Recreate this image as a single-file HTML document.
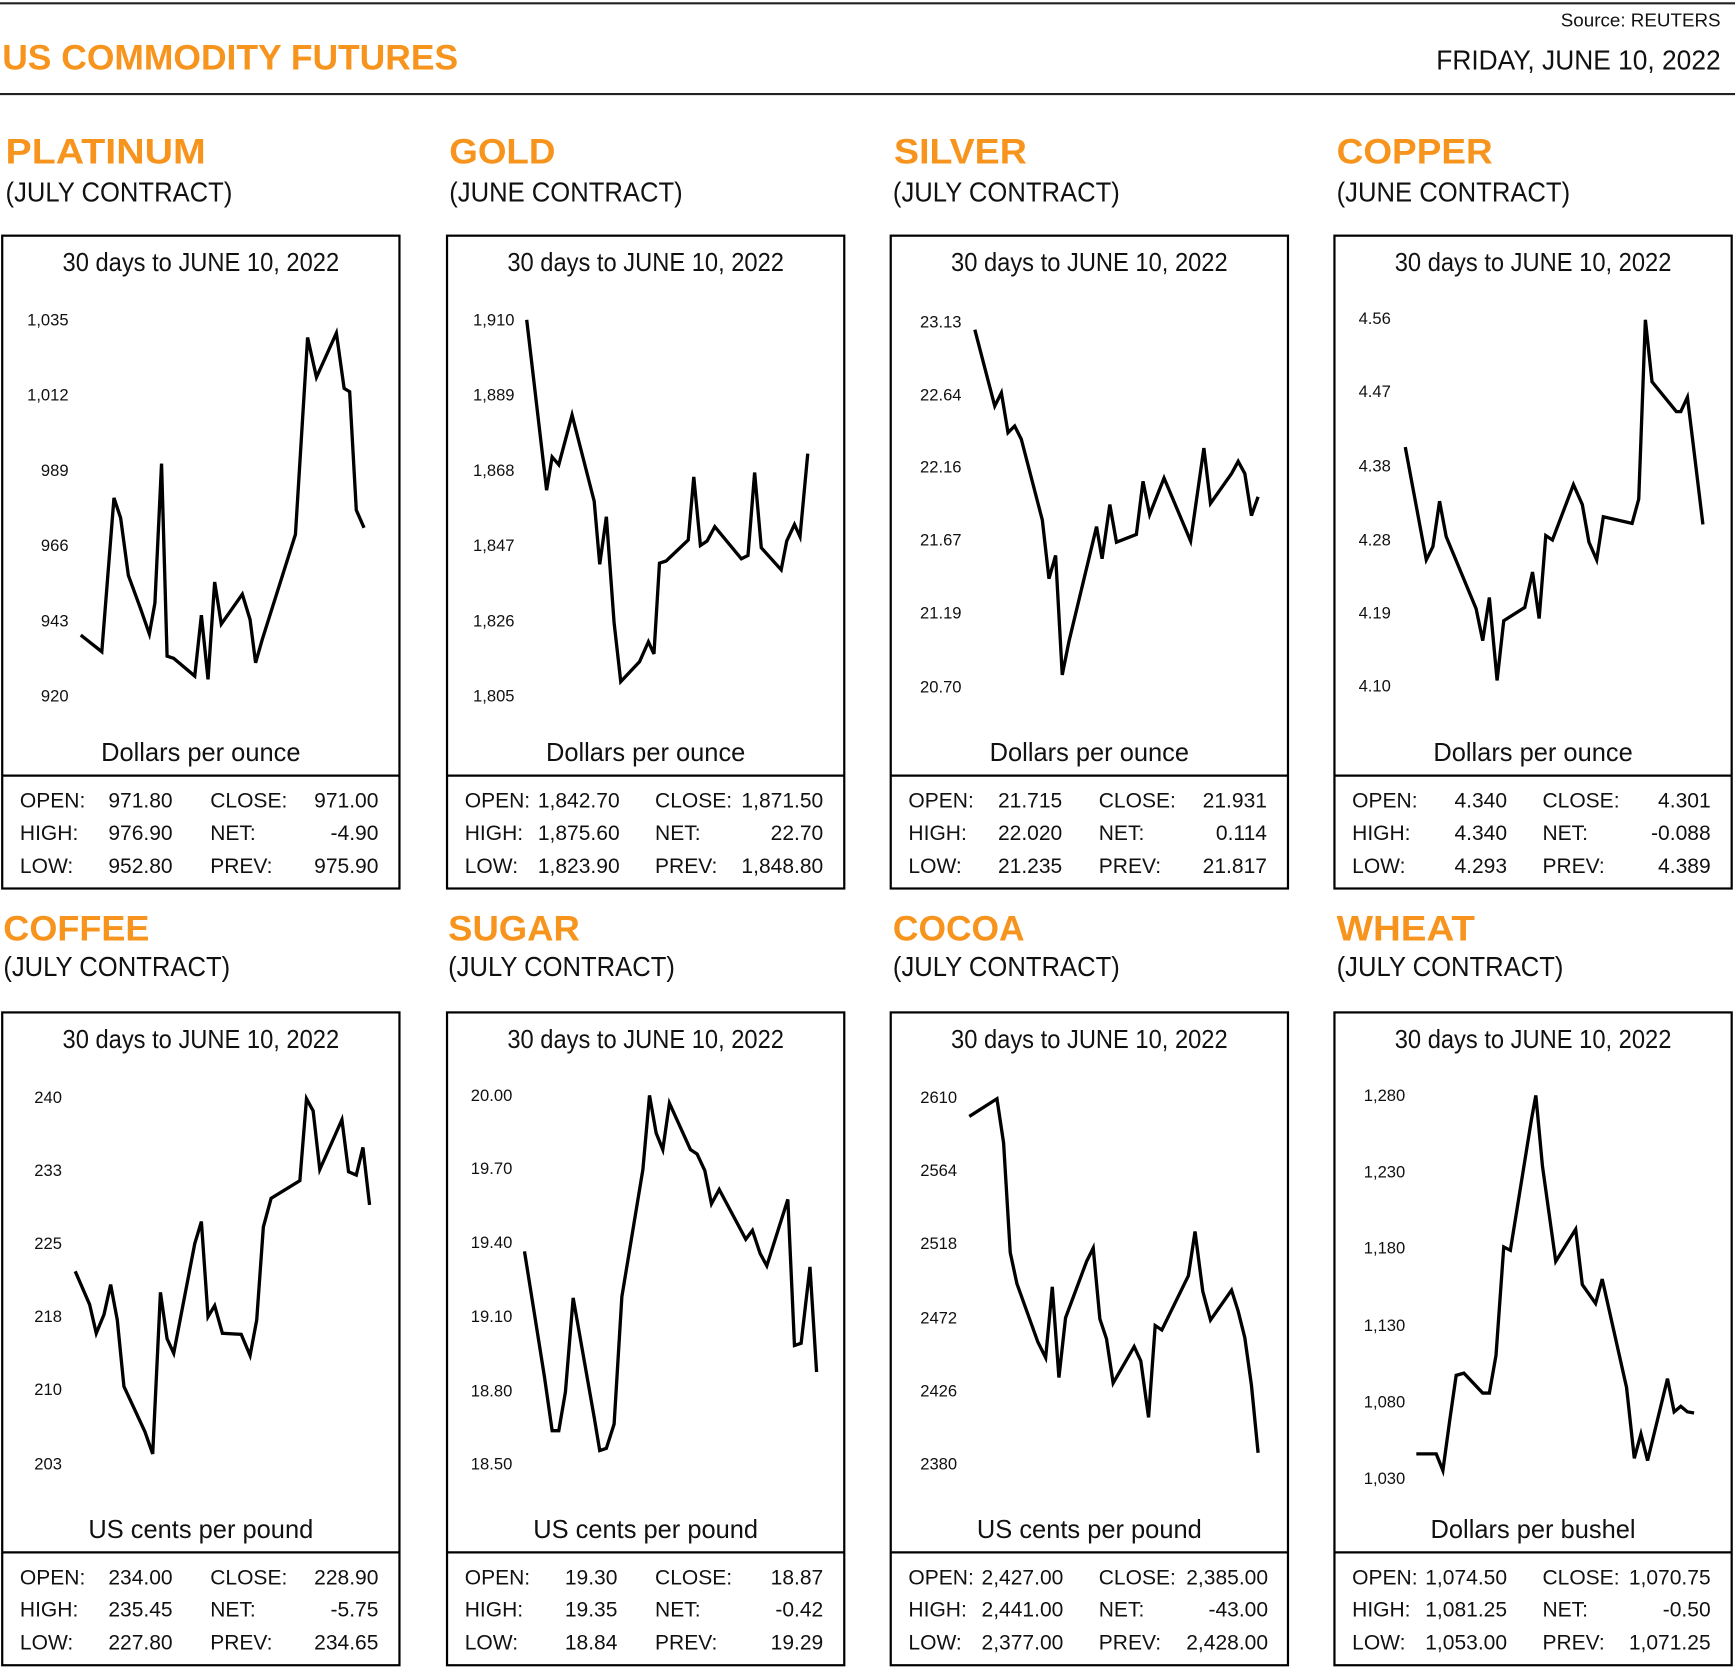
<!DOCTYPE html>
<html><head><meta charset="utf-8"><style>
html,body{margin:0;padding:0;background:#fff;}
svg{display:block;}
text{font-family:"Liberation Sans",sans-serif;fill:#111;}
.h{font-weight:bold;fill:#F7941D;font-size:32px;}
.s{font-size:25px;}
.t{font-size:23px;}
.k{font-size:19px;}
.tk{font-size:15px;text-anchor:end;}
.e{text-anchor:end;}
.m{text-anchor:middle;}
polyline{fill:none;stroke:#000;stroke-width:3;stroke-linejoin:miter;}
.bx{fill:none;stroke:#000;stroke-width:2;}
</style></head><body>
<svg width="1735" height="1669" viewBox="0 0 1568 1508.4" preserveAspectRatio="none" xmlns="http://www.w3.org/2000/svg">
<line x1="0" y1="3" x2="1568" y2="3" stroke="#222" stroke-width="2"/>
<line x1="0" y1="85" x2="1568" y2="85" stroke="#222" stroke-width="2"/>
<text x="1555" y="24" class="e" style="font-size:17px">Source: REUTERS</text>
<text x="2" y="63" class="h" textLength="412" lengthAdjust="spacingAndGlyphs">US COMMODITY FUTURES</text>
<text x="1555" y="63" class="e" style="font-size:25px" textLength="257" lengthAdjust="spacingAndGlyphs">FRIDAY, JUNE 10, 2022</text>

<!-- Panel frames -->
<defs>
<g id="frame">
<rect class="bx" x="2" y="213" width="359" height="590"/>
<line x1="2" y1="701" x2="361" y2="701" stroke="#000" stroke-width="2"/>
<text x="181.5" y="245" class="t m" textLength="250" lengthAdjust="spacingAndGlyphs">30 days to JUNE 10, 2022</text>
<text x="18" y="730" class="k">OPEN:</text>
<text x="18" y="759" class="k">HIGH:</text>
<text x="18" y="789" class="k">LOW:</text>
<text x="190" y="730" class="k">CLOSE:</text>
<text x="190" y="759" class="k">NET:</text>
<text x="190" y="789" class="k">PREV:</text>
</g>
</defs>
<use href="#frame" x="0" y="0"/><use href="#frame" x="402" y="0"/><use href="#frame" x="803" y="0"/><use href="#frame" x="1204" y="0"/>
<use href="#frame" x="0" y="702"/><use href="#frame" x="402" y="702"/><use href="#frame" x="803" y="702"/><use href="#frame" x="1204" y="702"/>

<!-- Row 1 headers -->
<text x="5" y="148" class="h" textLength="181" lengthAdjust="spacingAndGlyphs">PLATINUM</text>
<text x="5" y="182" class="s" textLength="205" lengthAdjust="spacingAndGlyphs">(JULY CONTRACT)</text>
<text x="406" y="148" class="h" textLength="96" lengthAdjust="spacingAndGlyphs">GOLD</text>
<text x="406" y="182" class="s" textLength="211" lengthAdjust="spacingAndGlyphs">(JUNE CONTRACT)</text>
<text x="808" y="148" class="h" textLength="120" lengthAdjust="spacingAndGlyphs">SILVER</text>
<text x="807" y="182" class="s" textLength="205" lengthAdjust="spacingAndGlyphs">(JULY CONTRACT)</text>
<text x="1208" y="148" class="h" textLength="141" lengthAdjust="spacingAndGlyphs">COPPER</text>
<text x="1208" y="182" class="s" textLength="211" lengthAdjust="spacingAndGlyphs">(JUNE CONTRACT)</text>
<!-- Row 2 headers -->
<text x="3" y="850" class="h" textLength="132" lengthAdjust="spacingAndGlyphs">COFFEE</text>
<text x="3" y="882" class="s" textLength="205" lengthAdjust="spacingAndGlyphs">(JULY CONTRACT)</text>
<text x="405" y="850" class="h" textLength="119" lengthAdjust="spacingAndGlyphs">SUGAR</text>
<text x="405" y="882" class="s" textLength="205" lengthAdjust="spacingAndGlyphs">(JULY CONTRACT)</text>
<text x="807" y="850" class="h" textLength="119" lengthAdjust="spacingAndGlyphs">COCOA</text>
<text x="807" y="882" class="s" textLength="205" lengthAdjust="spacingAndGlyphs">(JULY CONTRACT)</text>
<text x="1208" y="850" class="h" textLength="125" lengthAdjust="spacingAndGlyphs">WHEAT</text>
<text x="1208" y="882" class="s" textLength="205" lengthAdjust="spacingAndGlyphs">(JULY CONTRACT)</text>

<!-- units -->
<text x="181.5" y="688" class="t m">Dollars per ounce</text>
<text x="583.5" y="688" class="t m">Dollars per ounce</text>
<text x="984.5" y="688" class="t m">Dollars per ounce</text>
<text x="1385.5" y="688" class="t m">Dollars per ounce</text>
<text x="181.5" y="1390" class="t m">US cents per pound</text>
<text x="583.5" y="1390" class="t m">US cents per pound</text>
<text x="984.5" y="1390" class="t m">US cents per pound</text>
<text x="1385.5" y="1390" class="t m">Dollars per bushel</text>

<!-- stats values -->
<g class="k e">
<text x="156" y="730" class="k e">971.80</text><text x="156" y="759" class="k e">976.90</text><text x="156" y="789" class="k e">952.80</text>
<text x="342" y="730" class="k e">971.00</text><text x="342" y="759" class="k e">-4.90</text><text x="342" y="789" class="k e">975.90</text>
<text x="560" y="730" class="k e">1,842.70</text><text x="560" y="759" class="k e">1,875.60</text><text x="560" y="789" class="k e">1,823.90</text>
<text x="744" y="730" class="k e">1,871.50</text><text x="744" y="759" class="k e">22.70</text><text x="744" y="789" class="k e">1,848.80</text>
<text x="960" y="730" class="k e">21.715</text><text x="960" y="759" class="k e">22.020</text><text x="960" y="789" class="k e">21.235</text>
<text x="1145" y="730" class="k e">21.931</text><text x="1145" y="759" class="k e">0.114</text><text x="1145" y="789" class="k e">21.817</text>
<text x="1362" y="730" class="k e">4.340</text><text x="1362" y="759" class="k e">4.340</text><text x="1362" y="789" class="k e">4.293</text>
<text x="1546" y="730" class="k e">4.301</text><text x="1546" y="759" class="k e">-0.088</text><text x="1546" y="789" class="k e">4.389</text>

<text x="156" y="1432" class="k e">234.00</text><text x="156" y="1461" class="k e">235.45</text><text x="156" y="1491" class="k e">227.80</text>
<text x="342" y="1432" class="k e">228.90</text><text x="342" y="1461" class="k e">-5.75</text><text x="342" y="1491" class="k e">234.65</text>
<text x="558" y="1432" class="k e">19.30</text><text x="558" y="1461" class="k e">19.35</text><text x="558" y="1491" class="k e">18.84</text>
<text x="744" y="1432" class="k e">18.87</text><text x="744" y="1461" class="k e">-0.42</text><text x="744" y="1491" class="k e">19.29</text>
<text x="961" y="1432" class="k e">2,427.00</text><text x="961" y="1461" class="k e">2,441.00</text><text x="961" y="1491" class="k e">2,377.00</text>
<text x="1146" y="1432" class="k e">2,385.00</text><text x="1146" y="1461" class="k e">-43.00</text><text x="1146" y="1491" class="k e">2,428.00</text>
<text x="1362" y="1432" class="k e">1,074.50</text><text x="1362" y="1461" class="k e">1,081.25</text><text x="1362" y="1491" class="k e">1,053.00</text>
<text x="1546" y="1432" class="k e">1,070.75</text><text x="1546" y="1461" class="k e">-0.50</text><text x="1546" y="1491" class="k e">1,071.25</text>
</g>

<!-- tick labels -->
<g class="tk">
<text class="tk" x="62" y="294">1,035</text><text class="tk" x="62" y="362">1,012</text><text class="tk" x="62" y="430">989</text><text class="tk" x="62" y="498">966</text><text class="tk" x="62" y="566">943</text><text class="tk" x="62" y="634">920</text>
<text class="tk" x="465" y="294">1,910</text><text class="tk" x="465" y="362">1,889</text><text class="tk" x="465" y="430">1,868</text><text class="tk" x="465" y="498">1,847</text><text class="tk" x="465" y="566">1,826</text><text class="tk" x="465" y="634">1,805</text>
<text class="tk" x="869" y="296">23.13</text><text class="tk" x="869" y="362">22.64</text><text class="tk" x="869" y="427">22.16</text><text class="tk" x="869" y="493">21.67</text><text class="tk" x="869" y="559">21.19</text><text class="tk" x="869" y="626">20.70</text>
<text class="tk" x="1257" y="293">4.56</text><text class="tk" x="1257" y="359">4.47</text><text class="tk" x="1257" y="426">4.38</text><text class="tk" x="1257" y="493">4.28</text><text class="tk" x="1257" y="559">4.19</text><text class="tk" x="1257" y="625">4.10</text>
<text class="tk" x="56" y="997">240</text><text class="tk" x="56" y="1063">233</text><text class="tk" x="56" y="1129">225</text><text class="tk" x="56" y="1195">218</text><text class="tk" x="56" y="1261">210</text><text class="tk" x="56" y="1328">203</text>
<text class="tk" x="463" y="995">20.00</text><text class="tk" x="463" y="1061">19.70</text><text class="tk" x="463" y="1128">19.40</text><text class="tk" x="463" y="1195">19.10</text><text class="tk" x="463" y="1262">18.80</text><text class="tk" x="463" y="1328">18.50</text>
<text class="tk" x="865" y="997">2610</text><text class="tk" x="865" y="1063">2564</text><text class="tk" x="865" y="1129">2518</text><text class="tk" x="865" y="1196">2472</text><text class="tk" x="865" y="1262">2426</text><text class="tk" x="865" y="1328">2380</text>
<text class="tk" x="1270" y="995">1,280</text><text class="tk" x="1270" y="1064">1,230</text><text class="tk" x="1270" y="1133">1,180</text><text class="tk" x="1270" y="1203">1,130</text><text class="tk" x="1270" y="1272">1,080</text><text class="tk" x="1270" y="1341">1,030</text>
</g>

<!-- series -->
<polyline points="73,574 92,589 103,450 109,468 116,520 127,550 135,573 140,545 146,419 151,593 157,595 176,611 182,556 188,614 194,526 200,564 219,537 226,560 231,599 237,578 267,483 278,305 286,341 304,301 311,351 316,354 322,461 329,477"/>
<polyline points="476,289 494,443 499,413 505,420 517,375 537,453 542,510 548,467 555,563 561,616 578,598 586,580 591,591 596,509 602,507 622,488 627,431 633,493 639,489 646,476 670,505 676,502 682,427 688,495 706,515 711,489 718,474 723,485 730,410"/>
<polyline points="881,298 899,367 905,355 911,391 917,385 923,397 942,470 948,523 954,502 960,610 966,580 991,476 996,505 1003,456 1009,490 1027,483 1033,435 1039,465 1052,432 1076,489 1088,405 1094,455 1113,428 1119,417 1125,428 1131,466 1137,449"/>
<polyline points="1270,404 1289,506 1295,494 1301,453 1307,485 1334,550 1340,579 1346,540 1353,615 1359,561 1378,549 1385,517 1391,559 1397,484 1403,488 1422,438 1430,456 1436,490 1443,506 1449,467 1475,473 1481,451 1487,289 1493,345 1515,372 1519,372 1525,359 1531,408 1539,474"/>
<polyline points="68,1149 81,1179 87,1205 94,1188 100,1161 106,1193 112,1253 131,1294 138,1314 145,1168 151,1210 157,1223 176,1124 182,1104 188,1190 194,1180 201,1205 218,1206 226,1225 232,1193 238,1109 245,1083 271,1067 277,993 283,1004 289,1057 309,1012 315,1059 322,1062 328,1037 334,1089"/>
<polyline points="474,1131 492,1244 499,1293 505,1293 511,1258 518,1173 537,1281 542,1311 548,1309 555,1287 562,1172 581,1057 587,990 593,1024 599,1039 605,997 624,1039 630,1043 637,1058 643,1088 650,1075 674,1120 680,1112 687,1133 693,1144 712,1084 718,1216 724,1214 732,1145 738,1240"/>
<polyline points="876,1009 901,993 907,1033 913,1132 919,1160 938,1213 945,1227 951,1163 957,1245 963,1191 982,1140 988,1128 994,1192 1000,1210 1006,1250 1025,1217 1031,1230 1038,1281 1044,1198 1050,1202 1074,1153 1080,1113 1087,1167 1094,1193 1113,1166 1119,1185 1125,1209 1131,1252 1137,1313"/>
<polyline points="1280,1314 1298,1314 1304,1329 1310,1285 1316,1243 1323,1241 1340,1259 1346,1259 1352,1225 1359,1127 1365,1130 1384,1012 1388,990 1394,1054 1406,1140 1424,1111 1430,1161 1442,1178 1448,1156 1470,1254 1477,1318 1483,1296 1489,1320 1507,1246 1513,1276 1519,1271 1525,1276 1531,1277"/>
</svg>
</body></html>
